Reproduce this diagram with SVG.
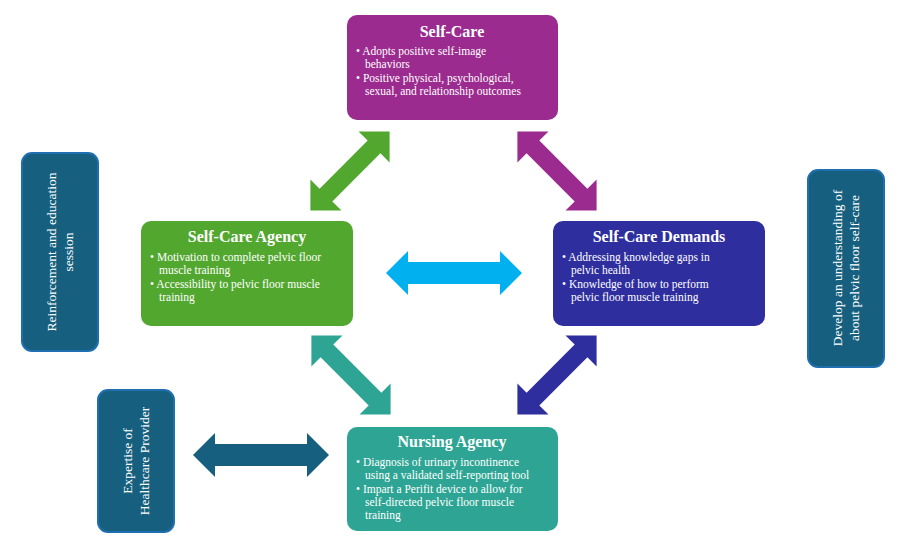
<svg xmlns="http://www.w3.org/2000/svg" width="904" height="546" viewBox="0 0 904 546">
<style>
text{font-family:"Liberation Serif","Times New Roman",serif;fill:#fff}
.t{font-size:16px;font-weight:bold;text-anchor:middle}
.b{font-size:11.5px}
.s{font-size:13.5px;text-anchor:middle}
.side{fill:#175f7f;stroke:#1f6fb0;stroke-width:2}
</style>
<defs>
<polygon id="da" points="-56,0 -34,-22 -34,-9 34,-9 34,-22 56,0 34,22 34,9 -34,9 -34,22"/>
<polygon id="dh" points="-68,0 -46,-22 -46,-11 46,-11 46,-22 68,0 46,22 46,11 -46,11 -46,22"/>
</defs>
<rect width="904" height="546" fill="#fff"/>
<g id="connectors">
<use href="#da" transform="translate(350,171) rotate(-45)" fill="#52a72f"/>
<use href="#da" transform="translate(557,171) rotate(45)" fill="#9b2b8e"/>
<use href="#da" transform="translate(351,375) rotate(45)" fill="#2ea594"/>
<use href="#da" transform="translate(557,375) rotate(-45)" fill="#2e2e9e"/>
<use href="#dh" transform="translate(454,273)" fill="#00b0ef"/>
<use href="#dh" transform="translate(261,455)" fill="#175f7f"/>
</g>
<g id="selfcare">
<rect x="347" y="15" width="211" height="105" rx="10" fill="#9b2b8e"/>
<text class="t" x="452" y="37">Self-Care</text>
<text class="b" x="356" y="55">• Adopts positive self-image</text>
<text class="b" x="365" y="68">behaviors</text>
<text class="b" x="356" y="82">• Positive physical, psychological,</text>
<text class="b" x="365" y="95">sexual, and relationship outcomes</text>
</g>
<g id="agency">
<rect x="141" y="221" width="212" height="105" rx="10" fill="#52a72f"/>
<text class="t" x="247" y="242">Self-Care Agency</text>
<text class="b" x="150" y="261">• Motivation to complete pelvic floor</text>
<text class="b" x="159" y="274">muscle training</text>
<text class="b" x="150" y="288">• Accessibility to pelvic floor muscle</text>
<text class="b" x="159" y="301">training</text>
</g>
<g id="demands">
<rect x="553" y="221" width="212" height="105" rx="10" fill="#2e2e9e"/>
<text class="t" x="659" y="242">Self-Care Demands</text>
<text class="b" x="562" y="261">• Addressing knowledge gaps in</text>
<text class="b" x="571" y="274">pelvic health</text>
<text class="b" x="562" y="288">• Knowledge of how to perform</text>
<text class="b" x="571" y="301">pelvic floor muscle training</text>
</g>
<g id="nursing">
<rect x="347" y="427" width="211" height="104" rx="10" fill="#2ea594"/>
<text class="t" x="452" y="447">Nursing Agency</text>
<text class="b" x="356" y="466">• Diagnosis of urinary incontinence</text>
<text class="b" x="365" y="479">using a validated self-reporting tool</text>
<text class="b" x="356" y="493">• Impart a Perifit device to allow for</text>
<text class="b" x="365" y="506">self-directed pelvic floor muscle</text>
<text class="b" x="365" y="519">training</text>
</g>
<g id="reinforcement">
<rect class="side" x="22" y="153" width="76" height="198" rx="10"/>
<text class="s" transform="translate(60,252) rotate(-90)"><tspan x="0" y="-4">Reinforcement and education</tspan><tspan x="0" y="13">session</tspan></text>
</g>
<g id="develop">
<rect class="side" x="808" y="170" width="76" height="197" rx="10"/>
<text class="s" transform="translate(846,268) rotate(-90)"><tspan x="0" y="-4">Develop an understanding of</tspan><tspan x="0" y="13">about pelvic floor self-care</tspan></text>
</g>
<g id="expertise">
<rect class="side" x="98" y="390" width="76" height="142" rx="10"/>
<text class="s" transform="translate(136,461) rotate(-90)"><tspan x="0" y="-4">Expertise of</tspan><tspan x="0" y="13">Healthcare Provider</tspan></text>
</g>
</svg>
